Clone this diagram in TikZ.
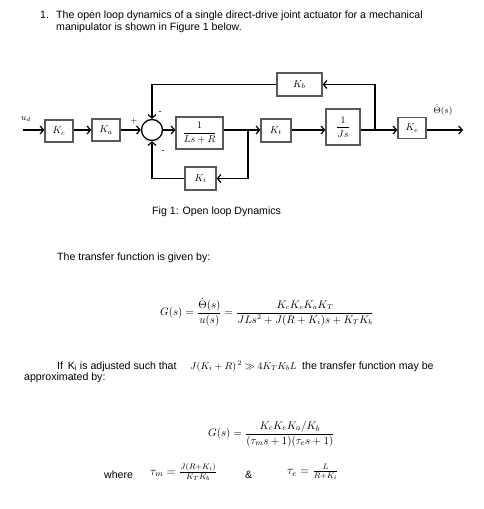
\documentclass[tikz,border=0pt]{standalone}
\usepackage{amsmath,amssymb}
\usepackage{fontspec}
\setmainfont{Liberation Sans}
\usetikzlibrary{arrows.meta}

\begin{document}
\begin{tikzpicture}[x=1pt,y=-1pt,
    blk/.style={draw=black!65,line width=1.3pt,inner sep=0pt,font=\normalsize},
    sumnode/.style={draw,line width=1.3pt,circle,minimum size=21pt,inner sep=0pt},
    link/.style={line width=1.2pt,-{Straight Barb[length=3.5pt,width=8pt]}},
    txt/.style={anchor=base west,inner sep=0pt,font=\fontsize{10.6}{12}\selectfont},
    eqn/.style={anchor=west,inner sep=0pt,font=\fontsize{10.6}{12}\selectfont},
    lbl/.style={inner sep=0pt,font=\small}]

    \useasboundingbox (0,0) rectangle (483,509);

    %question
    \node[txt] (num) at (40,18) {1.};
    \node[txt] (q1) at (56,18) {The open loop dynamics of a single direct-drive joint actuator for a mechanical};
    \node[txt] (q2) at (56,30) {manipulator is shown in Figure 1 below.};

    %blocks
    \node[blk,minimum width=28pt,minimum height=22pt] (Kc) at (59,131) {$K_c$};
    \node[blk,minimum width=28pt,minimum height=22pt] (Ka) at (106,130) {$K_a$};
    \node[sumnode] (sum) at (152,130) {};
    \node[blk,minimum width=47pt,minimum height=32pt] (Lsr) at (199.5,133) {$\dfrac{1}{Ls+R}$};
    \node[blk,minimum width=31pt,minimum height=23pt] (Ki) at (200.5,178.5) {$K_i$};
    \node[blk,minimum width=30pt,minimum height=23pt] (Kt) at (276,130.5) {$K_t$};
    \node[blk,minimum width=45pt,minimum height=23pt] (Kb) at (299.5,84.5) {$K_b$};
    \node[blk,minimum width=34pt,minimum height=36pt] (Js) at (343,127) {$\dfrac{1}{Js}$};
    \node[blk,minimum width=28pt,minimum height=21pt] (Ke) at (412,128) {$K_e$};

    \coordinate (in) at (23,130);
    \coordinate (out) at (463,130);
    \coordinate (br1) at (248,130);
    \coordinate (br2) at (375,130);

    %labels
    \node[lbl] (ud) at (26,119) {$u_d$};
    \node[lbl] (th) at (443,110) {$\dot{\Theta}(s)$};
    \node[lbl] (plus) at (134,121) {$+$};
    \node[lbl] (mtop) at (160,113) {-};
    \node[lbl] (mbot) at (163,152) {-};

    %forward path
    \draw[link] (in) -- (in -| Kc.west);
    \draw[link] (Kc.east |- in) -- (Ka);
    \draw[link] (Ka) -- (sum);
    \draw[link] (sum) -- (sum -| Lsr.west);
    \draw[link] (Lsr.east |- sum) -- (Kt.west |- sum);
    \draw[link] (Kt.east |- br1) -- (Js.west |- br1);
    \draw[link] (Js.east |- br2) -- (Ke.west |- br2);
    \draw[link] (Ke.east |- out) -- (out);

    %feedback
    \draw[link] (br2) |- (Kb);
    \draw[link] (Kb) -| (sum);
    \draw[link] (br1) |- (Ki);
    \draw[link] (Ki) -| (sum);

    %caption and text
    \node[txt] (cap) at (152,214) {Fig 1: Open loop Dynamics};
    \node[txt] (tf) at (57,260) {The transfer function is given by:};

    \node[eqn] (eq1) at (160,312)
        {$\displaystyle G(s)=\frac{\dot{\Theta}(s)}{u(s)}=\frac{K_cK_eK_aK_T}{JLs^2+J(R+K_i)s+K_TK_b}$};

    \node[txt] (if1) at (57,369) {If\, K\textsubscript{i} is adjusted such that};
    \node[txt,font=\fontsize{9.6}{12}\selectfont] (cond) at (190,369) {$J(K_i+R)^{\,2}\gg 4K_TK_bL$};
    \node[txt] (if2) at (302,369) {the transfer function may be};
    \node[txt] (if3) at (24,380) {approximated by:};

    \node[eqn,font=\fontsize{11.2}{13}\selectfont] (eq2) at (208,434)
        {$\displaystyle G(s)=\frac{K_cK_eK_a/K_b}{(\tau_ms+1)(\tau_es+1)}$};

    \node[txt] (wh) at (104,478) {where};
    \node[eqn,font=\large] (taum) at (150,472)
        {$\tau_m=\frac{J(R+K_i)}{K_TK_b}$};
    \node[txt] (amp) at (245,478) {\&};
    \node[eqn,font=\large] (taue) at (287,472)
        {$\tau_e=\frac{L}{R+K_i}$};
\end{tikzpicture}
\end{document}
